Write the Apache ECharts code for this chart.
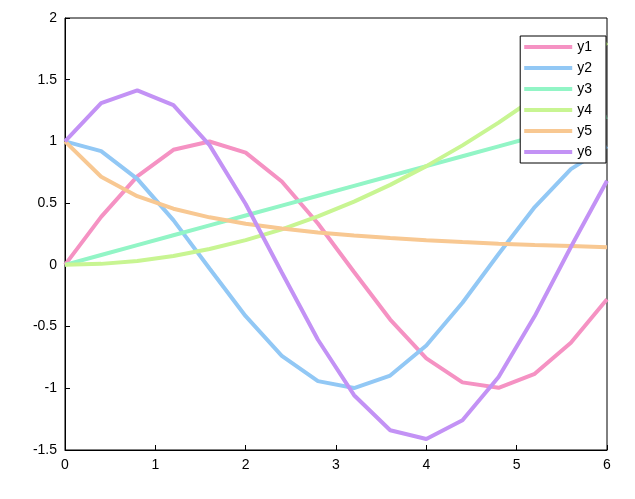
<!DOCTYPE html>
<html>
<head>
<meta charset="utf-8">
<script src="https://cdn.jsdelivr.net/npm/echarts@6/dist/echarts.min.js"></script>
<style>html,body{margin:0;padding:0;background:#fff}#chart{width:635px;height:499px}</style>
</head>
<body>
<div id="chart"></div>
<script>
// 数据
var xs = [0, 0.4, 0.8, 1.2, 1.6, 2.0, 2.4, 2.8, 3.2, 3.6, 4.0, 4.4, 4.8, 5.2, 5.6, 6.0];
var y1 = [0, 0.389, 0.717, 0.932, 0.9996, 0.909, 0.675, 0.335, -0.058, -0.443, -0.757, -0.952, -0.996, -0.883, -0.631, -0.279];
var y2 = [1, 0.921, 0.697, 0.362, -0.029, -0.416, -0.737, -0.942, -0.998, -0.897, -0.654, -0.307, 0.088, 0.468, 0.776, 0.960];
var y3 = [0, 0.08, 0.16, 0.24, 0.32, 0.4, 0.48, 0.56, 0.64, 0.72, 0.8, 0.88, 0.96, 1.04, 1.12, 1.2];
var y4 = [0, 0.008, 0.032, 0.072, 0.128, 0.2, 0.288, 0.392, 0.512, 0.648, 0.8, 0.968, 1.152, 1.352, 1.568, 1.8];
var y5 = [1, 0.714, 0.556, 0.455, 0.385, 0.333, 0.294, 0.263, 0.238, 0.217, 0.2, 0.185, 0.172, 0.161, 0.152, 0.143];
var y6 = [1, 1.310, 1.414, 1.294, 0.970, 0.493, -0.062, -0.607, -1.056, -1.340, -1.411, -1.259, -0.909, -0.415, 0.145, 0.681];
var names = ['y1', 'y2', 'y3', 'y4', 'y5', 'y6'];
var colors = ['#f592c3', '#92c8f5', '#92f5c6', '#c8f592', '#f8c892', '#c392f5'];

var chart = echarts.init(document.getElementById('chart'));
var all = [y1, y2, y3, y4, y5, y6];
var series = [];
for (var i = 0; i < all.length; i++) {
    series.push({
        name: names[i],
        type: 'line',
        symbol: 'none',
        data: xs.map(function (x, j) { return [x, all[i][j]]; }),
        lineStyle: { width: 4, color: colors[i] },
        itemStyle: { color: colors[i] }
    });
}
var axisCommon = {
    type: 'value',
    axisLine: { show: true, onZero: false, lineStyle: { color: '#000' } },
    axisTick: { inside: true, length: 5, lineStyle: { color: '#000' } },
    axisLabel: { color: '#000', fontSize: 14, fontFamily: 'Liberation Sans' },
    splitLine: { show: false }
};
chart.setOption({
    animation: false,
    grid: { left: 65, right: 28, top: 18, bottom: 49, show: true, borderColor: '#000', borderWidth: 1 },
    xAxis: Object.assign({}, axisCommon, { min: 0, max: 6, interval: 1 }),
    yAxis: Object.assign({}, axisCommon, { min: -1.5, max: 2, interval: 0.5 }),
    legend: {
        orient: 'vertical',
        right: 29,
        top: 36,
        data: names,
        backgroundColor: '#fff',
        borderColor: '#000',
        borderWidth: 1,
        padding: [4, 14, 4, 4],
        itemGap: 7,
        itemWidth: 48,
        itemHeight: 4,
        icon: 'rect',
        textStyle: { color: '#000', fontSize: 14, fontFamily: 'Liberation Sans' }
    },
    series: series
});
</script>
</body>
</html>
